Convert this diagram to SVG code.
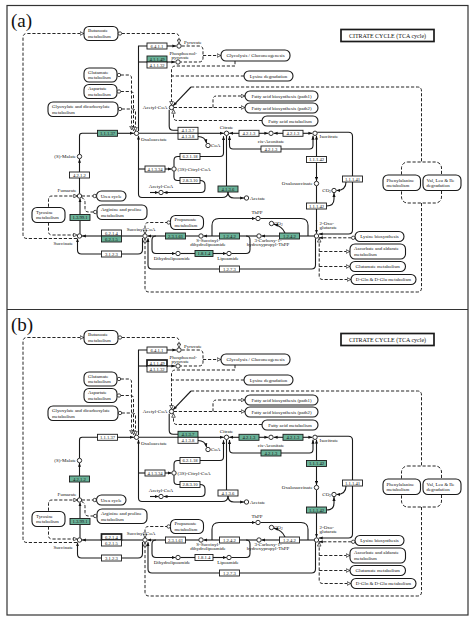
<svg xmlns="http://www.w3.org/2000/svg" width="474" height="619" viewBox="0 0 474 619">
<style>
.ln{fill:none;stroke:#1a1a1a;stroke-width:1.1}
.ds{fill:none;stroke:#1a1a1a;stroke-width:.95;stroke-dasharray:3.2 1.8}
.ec rect{fill:#fff;stroke:#1a1a1a;stroke-width:.9}
.ec.g rect{fill:#6ab298}
.ec.k rect{stroke-width:1.7}
.ec text{font-family:"Liberation Serif",serif;font-size:4.7px;text-anchor:middle;fill:#111}
.map rect{fill:#fff;stroke:#1a1a1a;stroke-width:1.1}
.map text{font-family:"Liberation Serif",serif;font-size:4.9px;fill:#111}
.map .c{text-anchor:middle}
.lk{fill:#fff;stroke:#1a1a1a;stroke-width:.8}
.cpd circle{fill:#fff;stroke:#1a1a1a;stroke-width:.9}
.cpd text{font-family:"Liberation Serif",serif;font-size:5px;fill:#111}
.e{text-anchor:end}.m{text-anchor:middle}
.title rect{fill:#fff;stroke:#1a1a1a;stroke-width:1.7}
.title text{font-family:"Liberation Serif",serif;font-size:6px;text-anchor:middle;fill:#111}
.plab{font-family:"Liberation Serif",serif;font-size:19px;fill:#111}
.sub{font-size:3.4px}
</style>
<defs>
<marker id="fa" viewBox="0 0 8 8" refX="8" refY="4" markerWidth="3.9" markerHeight="3.9" markerUnits="userSpaceOnUse" orient="auto-start-reverse"><path d="M0,0.8L8,4L0,7.2z" fill="#111"/></marker>
<marker id="oa" viewBox="0 0 9 9" refX="8.2" refY="4.5" markerWidth="4.6" markerHeight="4.6" markerUnits="userSpaceOnUse" orient="auto-start-reverse"><path d="M1,1L8.2,4.5L1,8z" fill="#fff" stroke="#111" stroke-width="1.3"/></marker>
</defs>
<rect width="474" height="619" fill="#fff"/>
<g id="frame" fill="none" stroke="#333" stroke-width="1.2"><rect x="7" y="5.5" width="461" height="609.5"/><line x1="7" y1="309.5" x2="468" y2="309.5"/></g>
<text id="label-a" class="plab" x="11" y="27">(a)</text>
<text id="label-b" class="plab" x="11" y="331">(b)</text>

<g id="panel-a">
<g id="a-connectors">
<path class="ln" d="M138.5 131V46H147"/>
<path class="ln" d="M167 46H176.3" marker-end="url(#fa)"/>
<path class="ln" d="M138.5 62H147"/>
<path class="ln" d="M167 62H175.3" marker-end="url(#fa)"/>
<path class="ln" d="M79.5 154.2V136Q79.5 133.3 82.2 133.3H97.5"/>
<path class="ln" d="M117.5 133.3H133.8" marker-end="url(#fa)"/>
<path class="ln" d="M138.8 133.3H178"/>
<path class="ln" d="M198 133.3H223.8" marker-end="url(#fa)"/>
<path class="ln" d="M169.2 109.8V126.3Q169.2 130.3 173.2 130.3H178"/>
<path class="ln" d="M198 136.5Q205 136.5 206.6 143.2" marker-end="url(#fa)"/>
<path class="ln" d="M239 133.3H229.2" marker-end="url(#fa)"/>
<path class="ln" d="M259 133.3H268.3" marker-end="url(#fa)"/>
<path class="ln" d="M283 133.3H273.7" marker-end="url(#fa)"/>
<path class="ln" d="M303 133.3H312.3" marker-end="url(#fa)"/>
<path class="ln" d="M261 149H233Q229.5 149 229.5 145.5V136" marker-end="url(#fa)"/>
<path class="ln" d="M281 149H309.5Q313 149 313 145.5V135.8" marker-end="url(#fa)"/>
<path class="ln" d="M316.5 156.5V135.7" marker-end="url(#fa)"/>
<path class="ln" d="M316.5 162.5V181" marker-end="url(#fa)"/>
<path class="ln" d="M316.5 186V203"/>
<path class="ln" d="M316.5 209V233.5" marker-end="url(#fa)"/>
<path class="ln" d="M326.5 206Q334 206 334 199V193" marker-end="url(#fa)"/>
<path class="ln" d="M317.2 132.3H348.5Q352.5 132.3 352.5 136.3V176"/>
<path class="ln" d="M352.5 182V230Q352.5 234 348.5 234H318.8" marker-end="url(#fa)"/>
<path class="ln" d="M346 182Q346 190.5 336.5 190.5" marker-end="url(#fa)"/>
<path class="ln" d="M174 166.8V160.3Q174 156.5 177.8 156.5H180"/>
<path class="ln" d="M200 156.5H220Q223.5 156.5 223.5 153V136.2" marker-end="url(#fa)"/>
<path class="ln" d="M138.5 169H145"/>
<path class="ln" d="M165 169H171.6" marker-end="url(#fa)"/>
<path class="ln" d="M174 171.2V177Q174 180.5 177.5 180.5H180"/>
<path class="ln" d="M200 180.5Q205 180.5 205 185V188.5Q205 192.5 201 192.5H163.6" marker-end="url(#fa)"/>
<path class="ln" d="M150 192.5H158.6" marker-end="url(#fa)"/>
<path class="ln" d="M226.5 135.7V186"/>
<path class="ln" d="M228 192Q228 197.5 222 197.5H142Q138.5 197.5 138.5 194V135.7" marker-end="url(#fa)"/>
<path class="ln" d="M228 192Q228 198 234 198H244" marker-end="url(#fa)"/>
<path class="ln" d="M79.5 193.8V178"/>
<path class="ln" d="M79.5 172V158.9" marker-end="url(#fa)"/>
<path class="ln" d="M80 233.8V220.5"/>
<path class="ln" d="M80 214.5V198.4" marker-end="url(#fa)"/>
<path class="ln" d="M142.7 236H121.5"/>
<path class="ln" d="M101.5 236H82" marker-end="url(#fa)"/>
<path class="ln" d="M142.5 238V249.5Q142.5 254 138 254H121.5"/>
<path class="ln" d="M101.5 254H81.5Q77.5 254 77.5 250V238.5" marker-end="url(#fa)"/>
<path class="ln" d="M314.2 236H299.5"/>
<path class="ln" d="M279.5 236H261.5" marker-end="url(#fa)"/>
<path class="ln" d="M256.8 236H239.5"/>
<path class="ln" d="M219.5 236H203.5" marker-end="url(#fa)"/>
<path class="ln" d="M198.8 236H185.5"/>
<path class="ln" d="M165.5 236H147.5" marker-end="url(#fa)"/>
<path class="ln" d="M212 236V225.5Q212 218.5 219 218.5H255.5" marker-end="url(#fa)"/>
<path class="ln" d="M260.3 218.5H301Q308 218.5 308 225.5V236"/>
<path class="ln" d="M285 233Q282 226 274 224.3" marker-end="url(#fa)"/>
<path class="ln" d="M156 236Q152 236 152 240V249.5Q152 253.5 156 253.5H175.6" marker-end="url(#fa)"/>
<path class="ln" d="M180.3 253.5H195"/>
<path class="ln" d="M213 253.5H226.6" marker-end="url(#fa)"/>
<path class="ln" d="M231.3 253.5H246Q250 253.5 250 249.5V240Q250 236 246 236"/>
<path class="ln" d="M315.5 238.2V265Q315.5 269 311.5 269H239.5"/>
<path class="ln" d="M219.5 269H152Q148 269 148 265V238.3" marker-end="url(#fa)"/>
<path class="ln" d="M191 87L173.2 105.7" marker-end="url(#fa)"/>
<path class="ds" d="M77 238.5H27Q23 238.5 23 234.5V37.5Q23 33.5 27 33.5H83.8" marker-end="url(#oa)"/>
<path class="ds" d="M121.7 33.5H175Q179 33.5 179 37.5V43.6" marker-end="url(#oa)"/>
<path class="ds" d="M181.6 46H199Q203 46 203 50V58Q203 62 199 62H180.4"/>
<path class="ds" d="M203 55.5H220.8" marker-end="url(#oa)"/>
<path class="ds" d="M235 61V66H175.5Q171.5 66 171.5 70V105.1" marker-end="url(#oa)"/>
<path class="ds" d="M244 76H171.5"/>
<path class="ds" d="M173.8 107.5H244.8" marker-end="url(#oa)"/>
<path class="ds" d="M213 107.5V99.5Q213 96 216.5 96H244.8" marker-end="url(#oa)"/>
<path class="ds" d="M262 120.5H177Q173.5 120.5 173.5 117V109.6" marker-end="url(#oa)"/>
<path class="ds" d="M191 87H417.5Q421.5 87 421.5 91V162"/>
<rect class="ds" x="401.5" y="162" width="40" height="41" rx="6"/>
<path class="ds" d="M421.5 203V288Q421.5 292 417.5 292H149Q145 292 145 288V238.4" marker-end="url(#oa)"/>
<path class="ds" d="M351.4 237.8H319" marker-end="url(#fa)"/>
<path class="ds" d="M319.2 238.4V276Q319.2 279.5 322.7 279.5H350.8" marker-start="url(#oa)" marker-end="url(#oa)"/>
<path class="ds" d="M319.2 251.5H349.8" marker-end="url(#oa)"/>
<path class="ds" d="M319.2 266.5H349.8" marker-end="url(#oa)"/>
<path class="ds" d="M120.7 75H128.5Q131.5 75 131.5 78V129.8" marker-end="url(#oa)"/>
<path class="ds" d="M120.7 91.5H130.5Q133.5 91.5 133.5 94.5V130.6" marker-end="url(#oa)"/>
<path class="ds" d="M121.7 109H132.5Q135.5 109 135.5 112V130.9" marker-end="url(#oa)"/>
<path class="ds" d="M81.8 196H93"/>
<path class="ds" d="M81.5 197.4Q85 199 85 202.5V208.5Q85 212 88.5 212H93.5"/>
<path class="ds" d="M77.4 196H52Q48.5 196 48.5 199.5V207.5" marker-start="url(#oa)"/>
<path class="ds" d="M48.5 222.5V231.5Q48.5 235 52 235H77.2" marker-end="url(#oa)"/>
<path class="ds" d="M145 233.8V226Q145 222.5 148.5 222.5H167" marker-start="url(#oa)"/>
</g>
<g id="a-title" class="title"><rect x="341" y="29.5" width="93" height="12"/><text x="387.5" y="37.8">CITRATE CYCLE (TCA cycle)</text></g>
<g id="a-map-butanoate" class="map"><rect x="84" y="26.5" width="34" height="14" rx="5"/><text x="88" y="32.3">Butanoate</text><text x="88" y="38">metabolism</text><circle class="lk" cx="120" cy="33.5" r="1.7"/></g>
<g id="a-map-glycolysis" class="map"><rect x="221" y="50" width="69" height="11" rx="5"/><text class="c" x="255.5" y="57.2">Glycolysis / Gluconeogenesis</text></g>
<g id="a-map-lysdeg" class="map"><rect x="244" y="71" width="49" height="10" rx="5"/><text class="c" x="268.5" y="77.6">Lysine degradation</text></g>
<g id="a-map-fab1" class="map"><rect x="245" y="91" width="73" height="10" rx="5"/><text class="c" x="281.5" y="97.6">Fatty acid biosynthesis (path1)</text></g>
<g id="a-map-fab2" class="map"><rect x="245" y="103" width="73" height="10" rx="5"/><text class="c" x="281.5" y="109.6">Fatty acid biosynthesis (path2)</text></g>
<g id="a-map-fam" class="map"><rect x="262" y="116" width="56" height="10" rx="5"/><text class="c" x="290" y="122.6">Fatty acid metabolism</text></g>
<g id="a-map-glu1" class="map"><rect x="84" y="68" width="33" height="14" rx="5"/><text x="88" y="73.8">Glutamate</text><text x="88" y="79.3">metabolism</text><circle class="lk" cx="119" cy="75" r="1.7"/></g>
<g id="a-map-asp" class="map"><rect x="84" y="84.5" width="33" height="14" rx="5"/><text x="88" y="90.3">Aspartate</text><text x="88" y="95.8">metabolism</text><circle class="lk" cx="119" cy="91.5" r="1.7"/></g>
<g id="a-map-glyox" class="map"><rect x="48" y="102" width="70" height="14.5" rx="5"/><text x="52" y="108">Glyoxylate and dicarboxylate</text><text x="52" y="113.6">metabolism</text><circle class="lk" cx="120" cy="109" r="1.7"/></g>
<g id="a-map-urea" class="map"><rect x="96.5" y="191" width="29.5" height="10" rx="5"/><text class="c" x="111.2" y="197.6">Urea cycle</text><circle class="lk" cx="94.7" cy="196" r="1.7"/></g>
<g id="a-map-arg" class="map"><rect x="97" y="205" width="50" height="14.5" rx="5"/><text x="101" y="211">Arginine and proline</text><text x="101" y="216.6">metabolism</text><circle class="lk" cx="95.2" cy="212" r="1.7"/></g>
<g id="a-map-tyr" class="map"><rect x="32" y="207.5" width="33" height="15" rx="5"/><text x="36" y="213.6">Tyrosine</text><text x="36" y="219.2">metabolism</text></g>
<g id="a-map-prop" class="map"><rect x="170.5" y="215.5" width="33" height="14" rx="5"/><text x="174.5" y="221.3">Propanoate</text><text x="174.5" y="226.8">metabolism</text><circle class="lk" cx="168.7" cy="222.5" r="1.7"/></g>
<g id="a-map-phe" class="map"><rect x="383" y="175" width="37.5" height="15.5" rx="5"/><text x="386.5" y="181.5">Phenylalanine</text><text x="386.5" y="187">metabolism</text></g>
<g id="a-map-val" class="map"><rect x="423" y="175" width="38" height="15.5" rx="5"/><text x="426.5" y="181.5">Val, Leu &amp; Ile</text><text x="426.5" y="187">degradation</text></g>
<g id="a-map-lysbio" class="map"><rect x="355" y="231.5" width="49" height="10" rx="5"/><text class="c" x="379.5" y="238.1">Lysine biosynthesis</text><circle class="lk" cx="353.2" cy="237.8" r="1.7"/></g>
<g id="a-map-asc" class="map"><rect x="350" y="244" width="55.5" height="15" rx="5"/><text x="354" y="250.2">Ascorbate and aldarate</text><text x="354" y="255.8">metabolism</text></g>
<g id="a-map-glu2" class="map"><rect x="350" y="261.5" width="55.5" height="10" rx="5"/><text class="c" x="377.7" y="268.1">Glutamate metabolism</text></g>
<g id="a-map-dgln" class="map"><rect x="351" y="274.5" width="65" height="10" rx="5"/><text class="c" x="383.5" y="281.1">D-Gln &amp; D-Glu metabolism</text></g>
<g id="a-ec-6.4.1.1" class="ec"><rect x="147" y="43" width="20" height="6"/><text x="157" y="47.7">6.4.1.1</text></g>
<g id="a-ec-4.1.1.49" class="ec g"><rect x="147" y="56" width="20" height="6"/><text x="157" y="60.7">4.1.1.49</text></g>
<g id="a-ec-4.1.1.32" class="ec"><rect x="147" y="62" width="20" height="6"/><text x="157" y="66.7">4.1.1.32</text></g>
<g id="a-ec-1.1.1.37" class="ec g"><rect x="97.5" y="130.3" width="20" height="6"/><text x="107.5" y="135">1.1.1.37</text></g>
<g id="a-ec-4.1.3.7" class="ec"><rect x="178" y="127.3" width="20" height="6"/><text x="188" y="132">4.1.3.7</text></g>
<g id="a-ec-4.1.3.8" class="ec"><rect x="178" y="133.3" width="20" height="6"/><text x="188" y="138">4.1.3.8</text></g>
<g id="a-ec-4.2.1.3-1" class="ec"><rect x="239" y="130.3" width="20" height="6"/><text x="249" y="135">4.2.1.3</text></g>
<g id="a-ec-4.2.1.3-2" class="ec"><rect x="283" y="130.3" width="20" height="6"/><text x="293" y="135">4.2.1.3</text></g>
<g id="a-ec-4.2.1.3-3" class="ec"><rect x="261" y="146" width="20" height="6"/><text x="271" y="150.7">4.2.1.3</text></g>
<g id="a-ec-6.2.1.18" class="ec"><rect x="180" y="153.5" width="20" height="6"/><text x="190" y="158.2">6.2.1.18</text></g>
<g id="a-ec-4.1.3.34" class="ec"><rect x="145" y="166" width="20" height="6"/><text x="155" y="170.7">4.1.3.34</text></g>
<g id="a-ec-2.8.3.10" class="ec"><rect x="180" y="177.5" width="20" height="6"/><text x="190" y="182.2">2.8.3.10</text></g>
<g id="a-ec-4.1.3.6" class="ec g"><rect x="218" y="186" width="20" height="6"/><text x="228" y="190.7">4.1.3.6</text></g>
<g id="a-ec-1.1.1.42-1" class="ec"><rect x="306.5" y="156.5" width="20" height="6"/><text x="316.5" y="161.2">1.1.1.42</text></g>
<g id="a-ec-1.1.1.41" class="ec"><rect x="342.5" y="176" width="20" height="6"/><text x="352.5" y="180.7">1.1.1.41</text></g>
<g id="a-ec-1.1.1.42-2" class="ec"><rect x="306.5" y="203" width="20" height="6"/><text x="316.5" y="207.7">1.1.1.42</text></g>
<g id="a-ec-4.2.1.2" class="ec"><rect x="69.5" y="172" width="20" height="6"/><text x="79.5" y="176.7">4.2.1.2</text></g>
<g id="a-ec-1.3.99.1" class="ec g"><rect x="70" y="214.5" width="20" height="6"/><text x="80" y="219.2">1.3.99.1</text></g>
<g id="a-ec-6.2.1.4" class="ec"><rect x="101.5" y="230" width="20" height="6"/><text x="111.5" y="234.7">6.2.1.4</text></g>
<g id="a-ec-6.2.1.5" class="ec g"><rect x="101.5" y="236" width="20" height="6"/><text x="111.5" y="240.7">6.2.1.5</text></g>
<g id="a-ec-3.1.2.3" class="ec"><rect x="101.5" y="251" width="20" height="6"/><text x="111.5" y="255.7">3.1.2.3</text></g>
<g id="a-ec-2.3.1.61" class="ec g"><rect x="165.5" y="233" width="20" height="6"/><text x="175.5" y="237.7">2.3.1.61</text></g>
<g id="a-ec-1.2.4.2-1" class="ec g"><rect x="219.5" y="233" width="20" height="6"/><text x="229.5" y="237.7">1.2.4.2</text></g>
<g id="a-ec-1.2.4.2-2" class="ec g"><rect x="279.5" y="233" width="20" height="6"/><text x="289.5" y="237.7">1.2.4.2</text></g>
<g id="a-ec-1.8.1.4" class="ec g"><rect x="195" y="250.5" width="18" height="6"/><text x="204" y="255.2">1.8.1.4</text></g>
<g id="a-ec-1.2.7.3" class="ec"><rect x="219.5" y="266" width="20" height="6"/><text x="229.5" y="270.7">1.2.7.3</text></g>
<g id="a-cpd-pyruvate" class="cpd"><circle cx="179" cy="46" r="2.2"/><text x="184" y="44">Pyruvate</text></g>
<g id="a-cpd-pep" class="cpd"><circle cx="178" cy="62" r="2.2"/><text x="169.5" y="54.5">Phosphoenol-</text><text x="171.5" y="58.8">pyruvate</text></g>
<g id="a-cpd-oxaloacetate" class="cpd"><circle cx="136.5" cy="133.3" r="2.2"/><text x="141" y="140.5">Oxaloacetate</text></g>
<g id="a-cpd-acetylcoa" class="cpd"><circle cx="171.5" cy="107.5" r="2.2"/><text class="e" x="167.3" y="109.3">Acetyl-CoA</text></g>
<g id="a-cpd-citrate" class="cpd"><circle cx="226.5" cy="133.3" r="2.2"/><text class="m" x="226.5" y="128.8">Citrate</text></g>
<g id="a-cpd-cisaconitate" class="cpd"><circle cx="271" cy="133.3" r="2.2"/><text class="m" x="271" y="142.8">cis-Aconitate</text></g>
<g id="a-cpd-isocitrate" class="cpd"><circle cx="315" cy="133.3" r="2.2"/><text x="319.5" y="138.3">Isocitrate</text></g>
<g id="a-cpd-coa" class="cpd"><circle cx="208" cy="145.5" r="2.2"/><text x="211" y="147.3">CoA</text></g>
<g id="a-cpd-citrylcoa" class="cpd"><circle cx="174" cy="169" r="2.2"/><text x="177.5" y="170.8">(3S)-Citryl-CoA</text></g>
<g id="a-cpd-acetylcoa2" class="cpd"><circle cx="161" cy="192.5" r="2.2"/><text class="m" x="161" y="188">Acetyl-CoA</text></g>
<g id="a-cpd-acetate" class="cpd"><circle cx="246.5" cy="198" r="2.2"/><text x="250" y="199.8">Acetate</text></g>
<g id="a-cpd-oxalosuccinate" class="cpd"><circle cx="316.5" cy="183.5" r="2.2"/><text class="e" x="312.7" y="185.3">Oxalosuccinate</text></g>
<g id="a-cpd-co2-1" class="cpd"><circle cx="334" cy="190.5" r="2.2"/><text class="e" x="331" y="192.3">CO<tspan class="sub" dy="1">2</tspan></text></g>
<g id="a-cpd-oxoglutarate" class="cpd"><circle cx="316.5" cy="236" r="2.2"/><text x="319.5" y="224.5">2-Oxo-</text><text x="319.5" y="229">glutarate</text></g>
<g id="a-cpd-malate" class="cpd"><circle cx="79.5" cy="156.5" r="2.2"/><text class="e" x="76" y="158.3">(S)-Malate</text></g>
<g id="a-cpd-fumarate" class="cpd"><circle cx="79.5" cy="196" r="2.2"/><text class="e" x="76.5" y="192.3">Fumarate</text></g>
<g id="a-cpd-succinate" class="cpd"><circle cx="79.5" cy="236" r="2.2"/><text class="e" x="73" y="244.8">Succinate</text></g>
<g id="a-cpd-succinylcoa" class="cpd"><circle cx="145" cy="236" r="2.2"/><text class="m" x="141" y="231.2">Succinyl-CoA</text></g>
<g id="a-cpd-ssdl" class="cpd"><circle cx="201" cy="236" r="2.2"/><text class="m" x="208" y="241.8">S-Succinyl-</text><text class="m" x="208" y="245.8">dihydrolipoamide</text></g>
<g id="a-cpd-carboxy" class="cpd"><circle cx="259" cy="236" r="2.2"/><text class="m" x="268" y="241.8">3-Carboxy-1-</text><text class="m" x="268" y="245.8">hydroxypropyl-ThPP</text></g>
<g id="a-cpd-thpp" class="cpd"><circle cx="258" cy="218.5" r="2.2"/><text class="m" x="257" y="214.3">ThPP</text></g>
<g id="a-cpd-co2-2" class="cpd"><circle cx="271.5" cy="223.5" r="2.2"/><text x="274" y="225.3">CO<tspan class="sub" dy="1">2</tspan></text></g>
<g id="a-cpd-dihydrolipoamide" class="cpd"><circle cx="178" cy="253.5" r="2.2"/><text class="m" x="172" y="260.3">Dihydrolipoamide</text></g>
<g id="a-cpd-lipoamide" class="cpd"><circle cx="229" cy="253.5" r="2.2"/><text class="m" x="228" y="260.3">Lipoamide</text></g>
</g>

<g id="panel-b" transform="translate(0,304)">
<g id="b-connectors">
<path class="ln" d="M138.5 131V46H147"/>
<path class="ln" d="M167 46H176.3" marker-end="url(#fa)"/>
<path class="ln" d="M138.5 62H147"/>
<path class="ln" d="M167 62H175.3" marker-end="url(#fa)"/>
<path class="ln" d="M79.5 154.2V136Q79.5 133.3 82.2 133.3H97.5"/>
<path class="ln" d="M117.5 133.3H133.8" marker-end="url(#fa)"/>
<path class="ln" d="M138.8 133.3H178"/>
<path class="ln" d="M198 133.3H223.8" marker-end="url(#fa)"/>
<path class="ln" d="M169.2 109.8V126.3Q169.2 130.3 173.2 130.3H178"/>
<path class="ln" d="M198 136.5Q205 136.5 206.6 143.2" marker-end="url(#fa)"/>
<path class="ln" d="M239 133.3H229.2" marker-end="url(#fa)"/>
<path class="ln" d="M259 133.3H268.3" marker-end="url(#fa)"/>
<path class="ln" d="M283 133.3H273.7" marker-end="url(#fa)"/>
<path class="ln" d="M303 133.3H312.3" marker-end="url(#fa)"/>
<path class="ln" d="M261 149H233Q229.5 149 229.5 145.5V136" marker-end="url(#fa)"/>
<path class="ln" d="M281 149H309.5Q313 149 313 145.5V135.8" marker-end="url(#fa)"/>
<path class="ln" d="M316.5 156.5V135.7" marker-end="url(#fa)"/>
<path class="ln" d="M316.5 162.5V181" marker-end="url(#fa)"/>
<path class="ln" d="M316.5 186V203"/>
<path class="ln" d="M316.5 209V233.5" marker-end="url(#fa)"/>
<path class="ln" d="M326.5 206Q334 206 334 199V193" marker-end="url(#fa)"/>
<path class="ln" d="M317.2 132.3H348.5Q352.5 132.3 352.5 136.3V176"/>
<path class="ln" d="M352.5 182V230Q352.5 234 348.5 234H318.8" marker-end="url(#fa)"/>
<path class="ln" d="M346 182Q346 190.5 336.5 190.5" marker-end="url(#fa)"/>
<path class="ln" d="M174 166.8V160.3Q174 156.5 177.8 156.5H180"/>
<path class="ln" d="M200 156.5H220Q223.5 156.5 223.5 153V136.2" marker-end="url(#fa)"/>
<path class="ln" d="M138.5 169H145"/>
<path class="ln" d="M165 169H171.6" marker-end="url(#fa)"/>
<path class="ln" d="M174 171.2V177Q174 180.5 177.5 180.5H180"/>
<path class="ln" d="M200 180.5Q205 180.5 205 185V188.5Q205 192.5 201 192.5H163.6" marker-end="url(#fa)"/>
<path class="ln" d="M150 192.5H158.6" marker-end="url(#fa)"/>
<path class="ln" d="M226.5 135.7V186"/>
<path class="ln" d="M228 192Q228 197.5 222 197.5H142Q138.5 197.5 138.5 194V135.7" marker-end="url(#fa)"/>
<path class="ln" d="M228 192Q228 198 234 198H244" marker-end="url(#fa)"/>
<path class="ln" d="M79.5 193.8V178"/>
<path class="ln" d="M79.5 172V158.9" marker-end="url(#fa)"/>
<path class="ln" d="M80 233.8V220.5"/>
<path class="ln" d="M80 214.5V198.4" marker-end="url(#fa)"/>
<path class="ln" d="M142.7 236H121.5"/>
<path class="ln" d="M101.5 236H82" marker-end="url(#fa)"/>
<path class="ln" d="M142.5 238V249.5Q142.5 254 138 254H121.5"/>
<path class="ln" d="M101.5 254H81.5Q77.5 254 77.5 250V238.5" marker-end="url(#fa)"/>
<path class="ln" d="M314.2 236H299.5"/>
<path class="ln" d="M279.5 236H261.5" marker-end="url(#fa)"/>
<path class="ln" d="M256.8 236H239.5"/>
<path class="ln" d="M219.5 236H203.5" marker-end="url(#fa)"/>
<path class="ln" d="M198.8 236H185.5"/>
<path class="ln" d="M165.5 236H147.5" marker-end="url(#fa)"/>
<path class="ln" d="M212 236V225.5Q212 218.5 219 218.5H255.5" marker-end="url(#fa)"/>
<path class="ln" d="M260.3 218.5H301Q308 218.5 308 225.5V236"/>
<path class="ln" d="M285 233Q282 226 274 224.3" marker-end="url(#fa)"/>
<path class="ln" d="M156 236Q152 236 152 240V249.5Q152 253.5 156 253.5H175.6" marker-end="url(#fa)"/>
<path class="ln" d="M180.3 253.5H195"/>
<path class="ln" d="M213 253.5H226.6" marker-end="url(#fa)"/>
<path class="ln" d="M231.3 253.5H246Q250 253.5 250 249.5V240Q250 236 246 236"/>
<path class="ln" d="M315.5 238.2V265Q315.5 269 311.5 269H239.5"/>
<path class="ln" d="M219.5 269H152Q148 269 148 265V238.3" marker-end="url(#fa)"/>
<path class="ln" d="M191 87L173.2 105.7" marker-end="url(#fa)"/>
<path class="ds" d="M77 238.5H27Q23 238.5 23 234.5V37.5Q23 33.5 27 33.5H83.8" marker-end="url(#oa)"/>
<path class="ds" d="M121.7 33.5H175Q179 33.5 179 37.5V43.6" marker-end="url(#oa)"/>
<path class="ds" d="M181.6 46H199Q203 46 203 50V58Q203 62 199 62H180.4"/>
<path class="ds" d="M203 55.5H220.8" marker-end="url(#oa)"/>
<path class="ds" d="M235 61V66H175.5Q171.5 66 171.5 70V105.1" marker-end="url(#oa)"/>
<path class="ds" d="M244 76H171.5"/>
<path class="ds" d="M173.8 107.5H244.8" marker-end="url(#oa)"/>
<path class="ds" d="M213 107.5V99.5Q213 96 216.5 96H244.8" marker-end="url(#oa)"/>
<path class="ds" d="M262 120.5H177Q173.5 120.5 173.5 117V109.6" marker-end="url(#oa)"/>
<path class="ds" d="M191 87H417.5Q421.5 87 421.5 91V162"/>
<rect class="ds" x="401.5" y="162" width="40" height="41" rx="6"/>
<path class="ds" d="M421.5 203V288Q421.5 292 417.5 292H149Q145 292 145 288V238.4" marker-end="url(#oa)"/>
<path class="ds" d="M351.4 237.8H319" marker-end="url(#fa)"/>
<path class="ds" d="M319.2 238.4V276Q319.2 279.5 322.7 279.5H350.8" marker-start="url(#oa)" marker-end="url(#oa)"/>
<path class="ds" d="M319.2 251.5H349.8" marker-end="url(#oa)"/>
<path class="ds" d="M319.2 266.5H349.8" marker-end="url(#oa)"/>
<path class="ds" d="M120.7 75H128.5Q131.5 75 131.5 78V129.8" marker-end="url(#oa)"/>
<path class="ds" d="M120.7 91.5H130.5Q133.5 91.5 133.5 94.5V130.6" marker-end="url(#oa)"/>
<path class="ds" d="M121.7 109H132.5Q135.5 109 135.5 112V130.9" marker-end="url(#oa)"/>
<path class="ds" d="M81.8 196H93"/>
<path class="ds" d="M81.5 197.4Q85 199 85 202.5V208.5Q85 212 88.5 212H93.5"/>
<path class="ds" d="M77.4 196H52Q48.5 196 48.5 199.5V207.5" marker-start="url(#oa)"/>
<path class="ds" d="M48.5 222.5V231.5Q48.5 235 52 235H77.2" marker-end="url(#oa)"/>
<path class="ds" d="M145 233.8V226Q145 222.5 148.5 222.5H167" marker-start="url(#oa)"/>
</g>
<g id="b-title" class="title"><rect x="341" y="29.5" width="93" height="12"/><text x="387.5" y="37.8">CITRATE CYCLE (TCA cycle)</text></g>
<g id="b-map-butanoate" class="map"><rect x="84" y="26.5" width="34" height="14" rx="5"/><text x="88" y="32.3">Butanoate</text><text x="88" y="38">metabolism</text><circle class="lk" cx="120" cy="33.5" r="1.7"/></g>
<g id="b-map-glycolysis" class="map"><rect x="221" y="50" width="69" height="11" rx="5"/><text class="c" x="255.5" y="57.2">Glycolysis / Gluconeogenesis</text></g>
<g id="b-map-lysdeg" class="map"><rect x="244" y="71" width="49" height="10" rx="5"/><text class="c" x="268.5" y="77.6">Lysine degradation</text></g>
<g id="b-map-fab1" class="map"><rect x="245" y="91" width="73" height="10" rx="5"/><text class="c" x="281.5" y="97.6">Fatty acid biosynthesis (path1)</text></g>
<g id="b-map-fab2" class="map"><rect x="245" y="103" width="73" height="10" rx="5"/><text class="c" x="281.5" y="109.6">Fatty acid biosynthesis (path2)</text></g>
<g id="b-map-fam" class="map"><rect x="262" y="116" width="56" height="10" rx="5"/><text class="c" x="290" y="122.6">Fatty acid metabolism</text></g>
<g id="b-map-glu1" class="map"><rect x="84" y="68" width="33" height="14" rx="5"/><text x="88" y="73.8">Glutamate</text><text x="88" y="79.3">metabolism</text><circle class="lk" cx="119" cy="75" r="1.7"/></g>
<g id="b-map-asp" class="map"><rect x="84" y="84.5" width="33" height="14" rx="5"/><text x="88" y="90.3">Aspartate</text><text x="88" y="95.8">metabolism</text><circle class="lk" cx="119" cy="91.5" r="1.7"/></g>
<g id="b-map-glyox" class="map"><rect x="48" y="102" width="70" height="14.5" rx="5"/><text x="52" y="108">Glyoxylate and dicarboxylate</text><text x="52" y="113.6">metabolism</text><circle class="lk" cx="120" cy="109" r="1.7"/></g>
<g id="b-map-urea" class="map"><rect x="96.5" y="191" width="29.5" height="10" rx="5"/><text class="c" x="111.2" y="197.6">Urea cycle</text><circle class="lk" cx="94.7" cy="196" r="1.7"/></g>
<g id="b-map-arg" class="map"><rect x="97" y="205" width="50" height="14.5" rx="5"/><text x="101" y="211">Arginine and proline</text><text x="101" y="216.6">metabolism</text><circle class="lk" cx="95.2" cy="212" r="1.7"/></g>
<g id="b-map-tyr" class="map"><rect x="32" y="207.5" width="33" height="15" rx="5"/><text x="36" y="213.6">Tyrosine</text><text x="36" y="219.2">metabolism</text></g>
<g id="b-map-prop" class="map"><rect x="170.5" y="215.5" width="33" height="14" rx="5"/><text x="174.5" y="221.3">Propanoate</text><text x="174.5" y="226.8">metabolism</text><circle class="lk" cx="168.7" cy="222.5" r="1.7"/></g>
<g id="b-map-phe" class="map"><rect x="383" y="175" width="37.5" height="15.5" rx="5"/><text x="386.5" y="181.5">Phenylalanine</text><text x="386.5" y="187">metabolism</text></g>
<g id="b-map-val" class="map"><rect x="423" y="175" width="38" height="15.5" rx="5"/><text x="426.5" y="181.5">Val, Leu &amp; Ile</text><text x="426.5" y="187">degradation</text></g>
<g id="b-map-lysbio" class="map"><rect x="355" y="231.5" width="49" height="10" rx="5"/><text class="c" x="379.5" y="238.1">Lysine biosynthesis</text><circle class="lk" cx="353.2" cy="237.8" r="1.7"/></g>
<g id="b-map-asc" class="map"><rect x="350" y="244" width="55.5" height="15" rx="5"/><text x="354" y="250.2">Ascorbate and aldarate</text><text x="354" y="255.8">metabolism</text></g>
<g id="b-map-glu2" class="map"><rect x="350" y="261.5" width="55.5" height="10" rx="5"/><text class="c" x="377.7" y="268.1">Glutamate metabolism</text></g>
<g id="b-map-dgln" class="map"><rect x="351" y="274.5" width="65" height="10" rx="5"/><text class="c" x="383.5" y="281.1">D-Gln &amp; D-Glu metabolism</text></g>
<g id="b-ec-6.4.1.1" class="ec"><rect x="147" y="43" width="20" height="6"/><text x="157" y="47.7">6.4.1.1</text></g>
<g id="b-ec-4.1.1.49" class="ec k"><rect x="147" y="56" width="20" height="6"/><text x="157" y="60.7">4.1.1.49</text></g>
<g id="b-ec-4.1.1.32" class="ec"><rect x="147" y="62" width="20" height="6"/><text x="157" y="66.7">4.1.1.32</text></g>
<g id="b-ec-1.1.1.37" class="ec"><rect x="97.5" y="130.3" width="20" height="6"/><text x="107.5" y="135">1.1.1.37</text></g>
<g id="b-ec-4.1.3.7" class="ec g"><rect x="178" y="127.3" width="20" height="6"/><text x="188" y="132">4.1.3.7</text></g>
<g id="b-ec-4.1.3.8" class="ec"><rect x="178" y="133.3" width="20" height="6"/><text x="188" y="138">4.1.3.8</text></g>
<g id="b-ec-4.2.1.3-1" class="ec g"><rect x="239" y="130.3" width="20" height="6"/><text x="249" y="135">4.2.1.3</text></g>
<g id="b-ec-4.2.1.3-2" class="ec g"><rect x="283" y="130.3" width="20" height="6"/><text x="293" y="135">4.2.1.3</text></g>
<g id="b-ec-4.2.1.3-3" class="ec g"><rect x="261" y="146" width="20" height="6"/><text x="271" y="150.7">4.2.1.3</text></g>
<g id="b-ec-6.2.1.18" class="ec"><rect x="180" y="153.5" width="20" height="6"/><text x="190" y="158.2">6.2.1.18</text></g>
<g id="b-ec-4.1.3.34" class="ec"><rect x="145" y="166" width="20" height="6"/><text x="155" y="170.7">4.1.3.34</text></g>
<g id="b-ec-2.8.3.10" class="ec"><rect x="180" y="177.5" width="20" height="6"/><text x="190" y="182.2">2.8.3.10</text></g>
<g id="b-ec-4.1.3.6" class="ec"><rect x="218" y="186" width="20" height="6"/><text x="228" y="190.7">4.1.3.6</text></g>
<g id="b-ec-1.1.1.42-1" class="ec g"><rect x="306.5" y="156.5" width="20" height="6"/><text x="316.5" y="161.2">1.1.1.42</text></g>
<g id="b-ec-1.1.1.41" class="ec"><rect x="342.5" y="176" width="20" height="6"/><text x="352.5" y="180.7">1.1.1.41</text></g>
<g id="b-ec-1.1.1.42-2" class="ec g"><rect x="306.5" y="203" width="20" height="6"/><text x="316.5" y="207.7">1.1.1.42</text></g>
<g id="b-ec-4.2.1.2" class="ec g"><rect x="69.5" y="172" width="20" height="6"/><text x="79.5" y="176.7">4.2.1.2</text></g>
<g id="b-ec-1.3.99.1" class="ec g"><rect x="70" y="214.5" width="20" height="6"/><text x="80" y="219.2">1.3.99.1</text></g>
<g id="b-ec-6.2.1.4" class="ec k"><rect x="101.5" y="230" width="20" height="6"/><text x="111.5" y="234.7">6.2.1.4</text></g>
<g id="b-ec-6.2.1.5" class="ec"><rect x="101.5" y="236" width="20" height="6"/><text x="111.5" y="240.7">6.2.1.5</text></g>
<g id="b-ec-3.1.2.3" class="ec"><rect x="101.5" y="251" width="20" height="6"/><text x="111.5" y="255.7">3.1.2.3</text></g>
<g id="b-ec-2.3.1.61" class="ec"><rect x="165.5" y="233" width="20" height="6"/><text x="175.5" y="237.7">2.3.1.61</text></g>
<g id="b-ec-1.2.4.2-1" class="ec"><rect x="219.5" y="233" width="20" height="6"/><text x="229.5" y="237.7">1.2.4.2</text></g>
<g id="b-ec-1.2.4.2-2" class="ec"><rect x="279.5" y="233" width="20" height="6"/><text x="289.5" y="237.7">1.2.4.2</text></g>
<g id="b-ec-1.8.1.4" class="ec"><rect x="195" y="250.5" width="18" height="6"/><text x="204" y="255.2">1.8.1.4</text></g>
<g id="b-ec-1.2.7.3" class="ec"><rect x="219.5" y="266" width="20" height="6"/><text x="229.5" y="270.7">1.2.7.3</text></g>
<g id="b-cpd-pyruvate" class="cpd"><circle cx="179" cy="46" r="2.2"/><text x="184" y="44">Pyruvate</text></g>
<g id="b-cpd-pep" class="cpd"><circle cx="178" cy="62" r="2.2"/><text x="169.5" y="54.5">Phosphoenol-</text><text x="171.5" y="58.8">pyruvate</text></g>
<g id="b-cpd-oxaloacetate" class="cpd"><circle cx="136.5" cy="133.3" r="2.2"/><text x="141" y="140.5">Oxaloacetate</text></g>
<g id="b-cpd-acetylcoa" class="cpd"><circle cx="171.5" cy="107.5" r="2.2"/><text class="e" x="167.3" y="109.3">Acetyl-CoA</text></g>
<g id="b-cpd-citrate" class="cpd"><circle cx="226.5" cy="133.3" r="2.2"/><text class="m" x="226.5" y="128.8">Citrate</text></g>
<g id="b-cpd-cisaconitate" class="cpd"><circle cx="271" cy="133.3" r="2.2"/><text class="m" x="271" y="142.8">cis-Aconitate</text></g>
<g id="b-cpd-isocitrate" class="cpd"><circle cx="315" cy="133.3" r="2.2"/><text x="319.5" y="138.3">Isocitrate</text></g>
<g id="b-cpd-coa" class="cpd"><circle cx="208" cy="145.5" r="2.2"/><text x="211" y="147.3">CoA</text></g>
<g id="b-cpd-citrylcoa" class="cpd"><circle cx="174" cy="169" r="2.2"/><text x="177.5" y="170.8">(3S)-Citryl-CoA</text></g>
<g id="b-cpd-acetylcoa2" class="cpd"><circle cx="161" cy="192.5" r="2.2"/><text class="m" x="161" y="188">Acetyl-CoA</text></g>
<g id="b-cpd-acetate" class="cpd"><circle cx="246.5" cy="198" r="2.2"/><text x="250" y="199.8">Acetate</text></g>
<g id="b-cpd-oxalosuccinate" class="cpd"><circle cx="316.5" cy="183.5" r="2.2"/><text class="e" x="312.7" y="185.3">Oxalosuccinate</text></g>
<g id="b-cpd-co2-1" class="cpd"><circle cx="334" cy="190.5" r="2.2"/><text class="e" x="331" y="192.3">CO<tspan class="sub" dy="1">2</tspan></text></g>
<g id="b-cpd-oxoglutarate" class="cpd"><circle cx="316.5" cy="236" r="2.2"/><text x="319.5" y="224.5">2-Oxo-</text><text x="319.5" y="229">glutarate</text></g>
<g id="b-cpd-malate" class="cpd"><circle cx="79.5" cy="156.5" r="2.2"/><text class="e" x="76" y="158.3">(S)-Malate</text></g>
<g id="b-cpd-fumarate" class="cpd"><circle cx="79.5" cy="196" r="2.2"/><text class="e" x="76.5" y="192.3">Fumarate</text></g>
<g id="b-cpd-succinate" class="cpd"><circle cx="79.5" cy="236" r="2.2"/><text class="e" x="73" y="244.8">Succinate</text></g>
<g id="b-cpd-succinylcoa" class="cpd"><circle cx="145" cy="236" r="2.2"/><text class="m" x="141" y="231.2">Succinyl-CoA</text></g>
<g id="b-cpd-ssdl" class="cpd"><circle cx="201" cy="236" r="2.2"/><text class="m" x="208" y="241.8">S-Succinyl-</text><text class="m" x="208" y="245.8">dihydrolipoamide</text></g>
<g id="b-cpd-carboxy" class="cpd"><circle cx="259" cy="236" r="2.2"/><text class="m" x="268" y="241.8">3-Carboxy-1-</text><text class="m" x="268" y="245.8">hydroxypropyl-ThPP</text></g>
<g id="b-cpd-thpp" class="cpd"><circle cx="258" cy="218.5" r="2.2"/><text class="m" x="257" y="214.3">ThPP</text></g>
<g id="b-cpd-co2-2" class="cpd"><circle cx="271.5" cy="223.5" r="2.2"/><text x="274" y="225.3">CO<tspan class="sub" dy="1">2</tspan></text></g>
<g id="b-cpd-dihydrolipoamide" class="cpd"><circle cx="178" cy="253.5" r="2.2"/><text class="m" x="172" y="260.3">Dihydrolipoamide</text></g>
<g id="b-cpd-lipoamide" class="cpd"><circle cx="229" cy="253.5" r="2.2"/><text class="m" x="228" y="260.3">Lipoamide</text></g>
</g>
</svg>
